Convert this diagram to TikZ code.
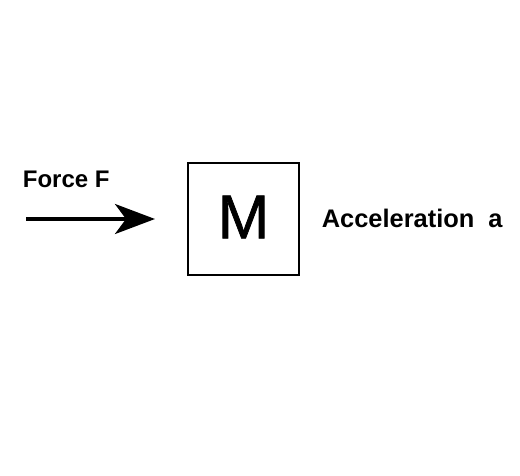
\documentclass[tikz,border=0pt]{standalone}
\usepackage{fontspec}
\setmainfont{Liberation Sans}
\newfontfamily\massfont[FakeBold=1.2]{Liberation Sans}
\usetikzlibrary{positioning,arrows.meta}
\tikzset{
  massbox/.style={draw, line width=2pt, minimum size=111pt, inner sep=0pt,
    font=\massfont\fontsize{62}{62}\selectfont},
  quantity/.style={font=\bfseries\fontsize{24}{24}\selectfont, inner sep=0pt, anchor=base west},
}
\begin{document}
\begin{tikzpicture}[x=1pt,y=1pt]
  \useasboundingbox (0,0) rectangle (520,475);
  \node[massbox] (mass) at (243.5,256) {\raisebox{4pt}{M}};
  \coordinate (fstart) at (26,256);
  \coordinate[left=32pt of mass.west] (fend);
  \draw[line width=3.5pt, -{Stealth[length=40pt,width=30pt,inset=11pt]}] (fstart) -- (fend);
  \node[quantity] (force) at (22.7,287.7) {Force F};
  \node[quantity, font=\bfseries\fontsize{25.4}{25.4}\selectfont] (accel) at (321.7,247.3) {Acceleration\ \ a};
\end{tikzpicture}
\end{document}
